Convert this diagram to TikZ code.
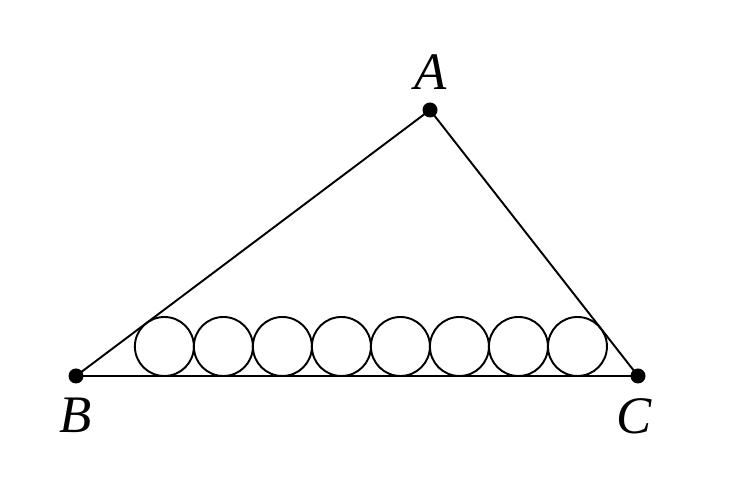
\documentclass[tikz,border=0pt]{standalone}
\usepackage{fontspec}
\setmainfont{Liberation Serif}
\usepackage{tikz}
\usetikzlibrary{calc}
\tikzset{>=latex}
\tikzset{vlabel/.style={font=\fontsize{30}{36}\selectfont\itshape, inner sep=0pt}}

\begin{document}
\begin{tikzpicture}
\useasboundingbox (0,0) rectangle (14.84,9.62);
\coordinate (A) at (8.60,7.42);
\coordinate (B) at (1.52,2.10);
\coordinate (C) at (12.76,2.10);
\draw[line width = 1.1 pt] (A) -- (B) -- (C) -- cycle;
% eight equal circles along BC
\foreach \i in {0,...,7}
  \draw[line width = 1.1 pt] ({3.2876+1.1802*\i}, 2.6901) circle (0.5901);
\fill (A) circle (0.15);
\fill (B) circle (0.15);
\fill (C) circle (0.15);
\node[vlabel] (la) at (8.62,8.18) {A};
\node[vlabel] (lb) at (1.52,1.32) {B};
\node[vlabel] (lc) at (12.68,1.30) {C};
\end{tikzpicture}
\end{document}
